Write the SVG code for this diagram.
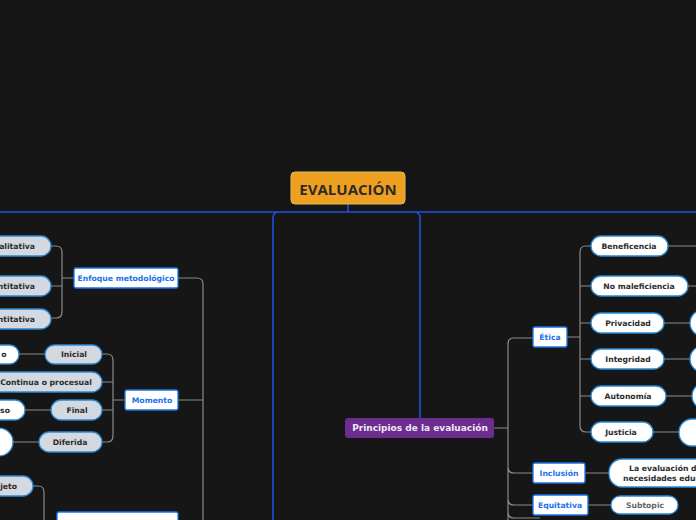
<svg xmlns="http://www.w3.org/2000/svg" width="696" height="520" viewBox="0 0 696 520">
<style>
.c{fill:none;stroke:#8a8a8a;stroke-width:1.2}
.b{fill:none;stroke:#1f4fe0;stroke-width:1.6}
.g{fill:#d4d8e0;stroke:#2a8ad4;stroke-width:1.3}
.w{fill:#fff;stroke:#2a8ad4;stroke-width:1.3}
.s{fill:#fff;stroke:#1a73e8;stroke-width:1.3}
text{font-family:"DejaVu Sans",Verdana,sans-serif;font-weight:bold;font-size:7.7px;text-anchor:middle}
.d{fill:#2b2b2b}
.l{fill:#1a73e8}
</style>
<rect width="696" height="520" fill="#161616"/>
<g id="connectors">
<path class="b" d="M348 204V212M0 212H696M273 520V218Q273 212 279 212M420 418V218Q420 212 414 212"/>
<path class="c" d="M494 428H508M508 520V344Q508 338 514 338H533M508 467Q508 473 514 473H533M508 499Q508 505 514 505H533M508 512Q508 518 514 518H540"/>
<path class="c" d="M567 337H580M580 252Q580 246 586 246H591M580 286H591M580 323H591M580 359H591M580 396H591M580 426Q580 432 586 432H591M580 252V426"/>
<path class="c" d="M668 246H696M688 286H696M664 323H690M664 359H690M666 396H692M653 432H679M585 473H609M588 505H611"/>
<path class="c" d="M178 278H197Q203 278 203 284V520M178 400H203M74 278H62M62 252Q62 246 56 246H51M62 312Q62 318 56 318H51M62 286H51M62 252V312"/>
<path class="c" d="M125 400H113M113 360Q113 354 107 354H102M113 382H102M113 410H102M113 436Q113 442 107 442H102M113 360V436M45 354H19M51 410H25M39 442H13M33 486H38Q44 486 44 492V520"/>
</g>
<g id="root"><rect x="291" y="172" width="114" height="32" rx="4" fill="#f0a020" stroke="#d4c060"/><text x="348" y="195" style="font-size:15px;font-family:'Open Sans','DejaVu Sans',sans-serif;fill:#2b2b2b">EVALUACIÓN</text></g>
<g id="principios"><rect x="345" y="418" width="149" height="20" rx="3" fill="#6b2d8e"/><text x="420" y="431" style="font-size:9px;fill:#f2e8f8">Principios de la evaluación</text></g>
<g id="etica"><rect class="s" x="533" y="327" width="34" height="20" rx="2"/><text class="l" x="550" y="340">Ética</text></g>
<g id="inclusion"><rect class="s" x="533" y="463" width="52" height="20" rx="2"/><text class="l" x="559" y="476">Inclusión</text></g>
<g id="equitativa"><rect class="s" x="533" y="495" width="55" height="20" rx="2"/><text class="l" x="560" y="508">Equitativa</text></g>
<g id="benef"><rect class="w" x="591" y="236" width="77" height="20" rx="10"/><text class="d" x="629" y="249">Beneficencia</text></g>
<g id="nomal"><rect class="w" x="591" y="276" width="97" height="20" rx="10"/><text class="d" x="639" y="289">No maleficiencia</text></g>
<g id="priv"><rect class="w" x="591" y="313" width="73" height="20" rx="10"/><text class="d" x="628" y="326">Privacidad</text></g>
<g id="integ"><rect class="w" x="591" y="349" width="73" height="20" rx="10"/><text class="d" x="628" y="362">Integridad</text></g>
<g id="auton"><rect class="w" x="591" y="386" width="75" height="20" rx="10"/><text class="d" x="628" y="399">Autonomía</text></g>
<g id="just"><rect class="w" x="591" y="422" width="62" height="20" rx="10"/><text class="d" x="621" y="435">Justicia</text></g>
<g id="privc"><rect class="w" x="690" y="310" width="40" height="26" rx="13"/></g>
<g id="integc"><rect class="w" x="690" y="346" width="40" height="26" rx="13"/></g>
<g id="autonc"><rect class="w" x="692" y="383" width="40" height="26" rx="13"/></g>
<g id="justc"><rect class="w" x="679" y="419" width="50" height="27" rx="13"/></g>
<g id="inclc"><rect class="w" x="609" y="459" width="120" height="28" rx="13"/><text class="d" x="629" y="471" style="text-anchor:start">La evaluación del</text><text class="d" x="623" y="481" style="text-anchor:start">necesidades educ</text></g>
<g id="subtopic"><rect class="w" x="611" y="496" width="67" height="18" rx="9"/><text x="645" y="508" style="fill:#666">Subtopic</text></g>
<g id="enfoque"><rect class="s" x="74" y="268" width="104" height="20" rx="2"/><text class="l" x="126" y="281">Enfoque metodológico</text></g>
<g id="momento"><rect class="s" x="125" y="390" width="53" height="20" rx="2"/><text class="l" x="152" y="403">Momento</text></g>
<g id="cual"><rect class="g" x="-40" y="236" width="91" height="20" rx="10"/><text class="d" x="35" y="249" style="text-anchor:end">ualitativa</text></g>
<g id="cuan"><rect class="g" x="-40" y="276" width="91" height="20" rx="10"/><text class="d" x="35" y="289" style="text-anchor:end">antitativa</text></g>
<g id="cuan2"><rect class="g" x="-40" y="309" width="91" height="20" rx="10"/><text class="d" x="35" y="322" style="text-anchor:end">antitativa</text></g>
<g id="inicial"><rect class="g" x="45" y="345" width="57" height="19" rx="9.5"/><text class="d" x="74" y="357">Inicial</text></g>
<g id="continua"><rect class="g" x="-10" y="372" width="112" height="20" rx="10"/><text class="d" x="46" y="385">Continua o procesual</text></g>
<g id="final"><rect class="g" x="51" y="400" width="51" height="20" rx="10"/><text class="d" x="77" y="413">Final</text></g>
<g id="diferida"><rect class="g" x="39" y="432" width="63" height="20" rx="10"/><text class="d" x="70" y="445">Diferida</text></g>
<g id="inic_c"><rect class="w" x="-30" y="345" width="49" height="19" rx="9.5"/><text class="d" x="4" y="357">o</text></g>
<g id="final_c"><rect class="w" x="-30" y="400" width="55" height="20" rx="10"/><text class="d" x="5" y="413">so</text></g>
<g id="dif_c"><rect class="w" x="-30" y="428" width="43" height="28" rx="14"/></g>
<g id="sujeto"><rect class="g" x="-30" y="476" width="63" height="20" rx="10"/><text class="d" x="17" y="489" style="text-anchor:end">ujeto</text></g>
<g id="bottom"><rect class="s" x="57" y="512" width="121" height="20" rx="2"/></g>
</svg>
